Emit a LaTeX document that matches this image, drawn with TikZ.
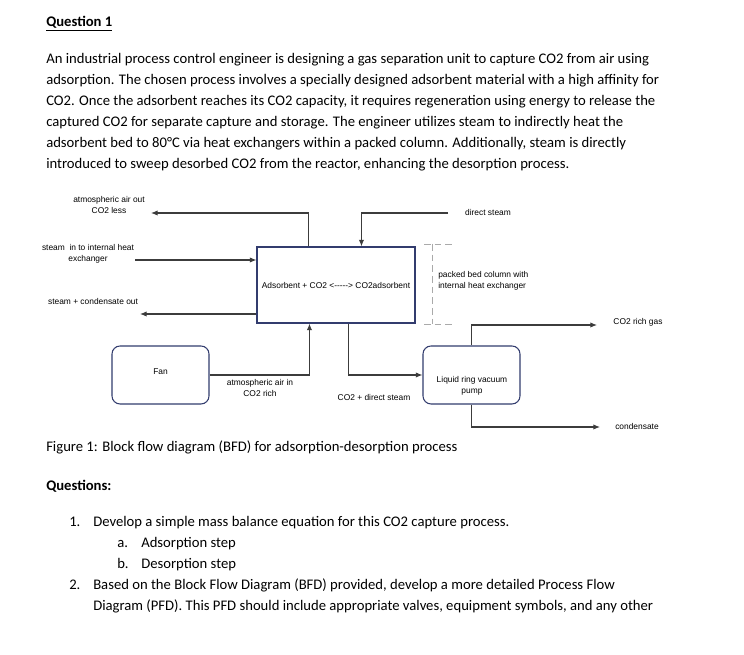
\documentclass[tikz,border=0pt]{standalone}
\usepackage{fontspec}
\setmainfont{Carlito}
\newfontfamily\arialf{Liberation Sans}
\usetikzlibrary{arrows.meta,calc}
\definecolor{boxc}{RGB}{50,60,110}
\definecolor{linec}{RGB}{60,60,60}
\definecolor{dashc}{RGB}{170,170,170}
\begin{document}
\begin{tikzpicture}[x=0.75pt,y=-0.75pt,
  body/.style={anchor=base west,inner sep=0pt,font=\fontsize{11}{13}\selectfont},
  small/.style={inner sep=0pt,align=center,font=\arialf\fontsize{6.3}{8.25}\selectfont},
  arr/.style={draw=linec,line width=0.8pt,-{Latex[length=5pt,width=4pt]}},
  flow/.style={draw=linec,line width=0.8pt},
  blk/.style={draw=boxc,line width=0.8pt,minimum width=118.5pt,minimum height=57pt,inner sep=0pt},
  rbox/.style={draw=boxc,line width=0.8pt,rounded corners=6pt,minimum width=72.75pt,minimum height=43.5pt,inner sep=0pt},
  brk/.style={draw=dashc,line width=0.6pt,dash pattern=on 5pt off 3pt}]
\useasboundingbox[fill=white] (0,0) rectangle (744,655);

% header and question text
\node[body,font=\fontsize{11}{13}\selectfont\bfseries] (q1) at (46,27) {\underline{Question 1}};
\node[body] (p1) at (46,64) {An industrial process control engineer is designing a gas separation unit to capture CO2 from air using};
\node[body] (p2) at (46,85) {adsorption. The chosen process involves a specially designed adsorbent material with a high affinity for};
\node[body] (p3) at (46,106) {CO2. Once the adsorbent reaches its CO2 capacity, it requires regeneration using energy to release the};
\node[body] (p4) at (46,127) {captured CO2 for separate capture and storage. The engineer utilizes steam to indirectly heat the};
\node[body] (p5) at (46,148) {adsorbent bed to 80°C via heat exchangers within a packed column. Additionally, steam is directly};
\node[body] (p6) at (46,169) {introduced to sweep desorbed CO2 from the reactor, enhancing the desorption process.};

% blocks
\node[blk] (ads) at (336,285) {};
\node[small] (adstxt) at (336,286) {Adsorbent + CO2 <-{}-{}-{}-{}-> CO2adsorbent};
\node[rbox] (fan) at (160.5,375) {};
\node[small] (fantxt) at (160.5,372) {Fan};
\node[rbox] (pump) at (471.5,375) {};
\node[small] (pumptxt) at (472,386) {Liquid ring vacuum\\pump};

% labels
\node[small] (lao) at (109,205.5) {atmospheric air out\\CO2 less};
\node[small] (lsi) at (88,253.5) {steam\ \ in to internal heat\\exchanger};
\node[small] (lco) at (93,302) {steam + condensate out};
\node[small] (lds) at (488,213) {direct steam};
\node[small,align=left,anchor=west] (lpb) at (438,280.5) {packed bed column with\\internal heat exchanger};
\node[small] (lcg) at (638,322) {CO2 rich gas};
\node[small] (lcd) at (637,427) {condensate};
\node[small] (lai) at (260,388.5) {atmospheric air in\\CO2 rich};
\node[small] (lcs) at (374,398) {CO2 + direct steam};

% free ends
\coordinate (aoEnd) at (151,213);
\coordinate (dsStart) at (448,213);
\coordinate (siStart) at (135,260);
\coordinate (coEnd) at (140,314);
\coordinate (cgEnd) at (597,325);
\coordinate (cdEnd) at (600,427);

% connectors
\draw[arr] ($(ads.north west)+(52,0)$) |- (aoEnd);
\draw[arr] (dsStart) -| ($(ads.north west)+(105,0)$);
\draw[arr] (siStart) -- (siStart -| ads.west);
\draw[arr] (coEnd -| ads.west) -- (coEnd);
\draw[arr] (fan.east) -| ($(ads.south west)+(53,0)$);
\draw[arr] ($(ads.south west)+(92,0)$) |- (pump.west);
\draw[arr] (pump.north) |- (cgEnd);
\draw[arr] (pump.south) |- (cdEnd);

% dashed bracket
\draw[brk] (424,244) -- (452,244);
\draw[brk] (432,244) -- (432,324);
\draw[brk] (424,324) -- (452,324);

% caption and questions
\node[body] (cap) at (46,452) {Figure 1: Block flow diagram (BFD) for adsorption-desorption process};
\node[body,font=\fontsize{11}{13}\selectfont\bfseries] (qs) at (46,491) {Questions:};
\node[body] (n1) at (69,527) {1.};
\node[body] (t1) at (93,527) {Develop a simple mass balance equation for this CO2 capture process.};
\node[body] (na) at (117,548) {a.};
\node[body] (ta) at (141,548) {Adsorption step};
\node[body] (nb) at (117,569) {b.};
\node[body] (tb) at (141,569) {Desorption step};
\node[body] (n2) at (69,590) {2.};
\node[body] (t2) at (93,590) {Based on the Block Flow Diagram (BFD) provided, develop a more detailed Process Flow};
\node[body] (t2b) at (93,611) {Diagram (PFD). This PFD should include appropriate valves, equipment symbols, and any other};
\end{tikzpicture}
\end{document}
